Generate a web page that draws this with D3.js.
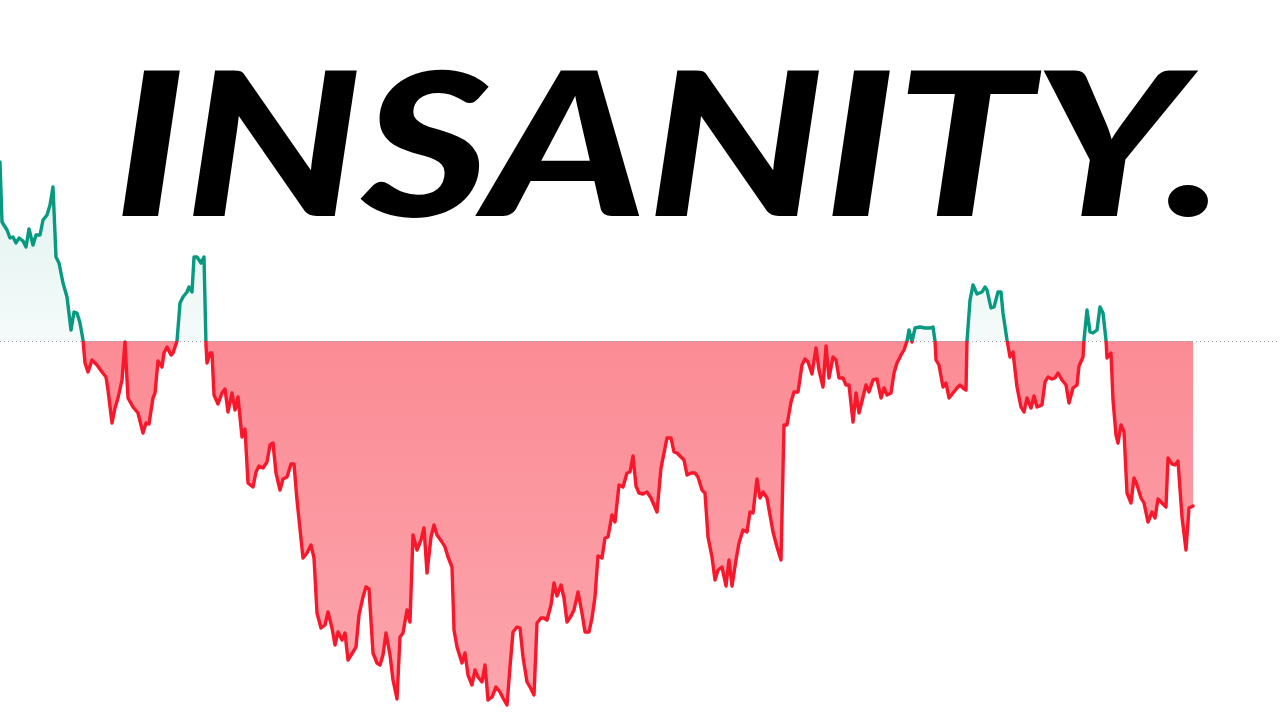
<!DOCTYPE html>
<html>
<head>
<meta charset="utf-8">
<script src="https://cdn.jsdelivr.net/npm/d3@7"></script>
<style>
  html, body { margin: 0; padding: 0; background: #ffffff; overflow: hidden; }
  svg { display: block; }
</style>
</head>
<body>
<svg id="chart" width="1280" height="720"></svg>
<script>
// ---- data ----
const titleText = "INSANITY.";
const baselinePrice = 189.5;

const days = [
  0,0.6,2.1,3,3.9,4.8,5.7,6.9,7.8,8.7,9.9,10.8,12,12.9,14.1,15,15.9,16.8,17.7,18.9,20.1,21.3,22.2,23.1,24,24.9,
  25.5,26.4,27.6,29.1,30.6,31.8,32.4,33.6,34.5,35.4,36.6,37.5,38.4,39.9,41.4,42.9,43.8,44.7,45.9,46.5,47.4,48.6,49.2,50.1,51.3,51.9,53.1,
  54,54.9,56.1,56.7,57.6,58.2,59.1,60.3,61.2,61.8,62.1,63,63.6,64.2,65.4,66.6,67.5,68.4,69.6,70.5,71.4,72.6,73.5,74.4,75.9,
  76.8,77.7,78.9,80.1,81,81.9,82.8,84,84.9,86.1,87.3,88.2,89.1,90.9,92.1,93.3,94.2,95.1,96.3,97.5,98.4,99.6,100.5,101.4,102.6,103.5,104.4,105.9,106.8,107.7,
  108.9,109.8,110.7,111.9,113.1,114,114.9,115.8,117,117.9,119.1,120,120.9,122.1,123,123.9,125.1,126.3,127.2,128.1,129.3,130.2,131.1,132.6,133.5,134.4,135.6,
  136.2,137.1,138.6,139.5,140.4,141.6,142.5,143.4,144.6,145.5,146.4,147.6,148.8,150,150.9,152.1,153,153.9,155.1,156,156.9,158.1,159,160.2,
  161.1,162.3,163.2,164.1,165.3,166.2,167.1,168.3,169.2,170.1,171.3,172.2,173.4,174.6,175.5,176.7,177.6,178.5,179.4,180.6,181.5,182.4,183.6,184.5,185.7,
  186.9,188.1,189,189.9,190.8,191.7,192.9,194.1,195.3,196.2,197.1,198.3,199.2,200.1,201.3,202.2,203.1,204.3,205.2,206.1,207.3,208.5,209.4,210.6,211.5,
  212.4,213.6,214.5,215.4,216.6,217.8,218.7,219.6,220.8,221.7,222.9,224.1,225,225.9,227.1,228,228.9,230.1,231,231.9,233.1,234.3,
  235.2,236.1,237.3,238.2,239.4,240.6,241.5,242.4,243.6,244.8,245.7,246.9,247.8,248.7,249.9,250.8,251.7,252.9,253.8,254.7,
  255.9,256.8,257.7,258.9,259.8,260.7,261.9,263.1,264.3,265.2,266.1,267.3,268.2,269.1,270.3,271.2,272.1,272.7,273.6,274.5,276,277.5,279,279.9,
  280.5,280.8,281.7,282.9,283.8,284.7,285.9,287.1,288,288.9,289.8,290.1,291,291.9,293.1,294.6,295.5,296.1,297.3,298.2,299.4,300.3,300.9,
  302.1,303,303.9,305.1,306.3,307.2,308.1,309.3,310.2,311.1,312.6,313.5,314.4,315.6,316.5,317.4,318.6,319.8,320.7,321.9,323.1,323.7,324.9,
  325.2,326.1,327,327.9,329.1,330,330.9,331.8,332.1,333.3,333.9,334.8,335.4,336.3,337.2,338.1,339.3,340.2,341.1,342.3,343.2,
  344.4,345.6,346.5,347.4,348.6,349.8,350.4,351.6,352.5,353.4,354.6,355.8,356.7,357.9
];

const prices = [
  279,249,245,241,241.5,238.5,241,239.5,236.5,245.5,237.5,242.5,242.5,250,252.5,257.5,266.5,231.5,228.5,218.5,211.5,195,204,203.5,198.5,190,
  178.5,174,180,177.5,174,171.5,165,148.5,156,161,170,189,161,156.5,153.5,143.5,148.5,148,161,163.5,179.5,176.5,183.5,186.5,182.5,183.5,189.5,
  208.5,211.5,214,216.5,214,231.5,231.5,228.5,231.5,187.5,178.5,183.5,183.5,162.5,158,163.5,165.5,154,163.5,155,161.5,141.5,145.5,118.5,116.5,
  124,127,126,129,137.5,138.5,123.5,115,120.5,121.5,128,128,110,81,83.5,87.5,81,53.5,46,47.5,54,46,37.5,44,40,43.5,30,34,36.5,52.5,
  61.5,66.5,65.5,33.5,28.5,27.5,32.5,43.5,32.5,20,10.5,41.5,43.5,55,49,92.5,85,90,96,73.5,91.5,97.5,92.5,89,86.5,81.5,76.5,
  45,36.5,28.5,33.5,22.5,17.5,25,21.5,19,27.5,10,11.5,16.5,14,11,7.5,26.5,44,46.5,46,31.5,19,16.5,12.5,
  48.5,51,51,50,57.5,68.5,62,67.5,61,49,52,55,64,53.5,44,44,51,61.5,82,81,91,91.5,102.5,99,117.5,
  116.5,123.5,124,132,117,113.5,113,114,111,107.5,104,126,133.5,141,141,134,133.5,131.5,130,122.5,123.5,123.5,121.5,115,113.5,
  91.5,81.5,70,75,76.5,67,80,67,80,88.5,95,94,104,103.5,120.5,111,114,111,102.5,94,86.5,80,
  147.5,147.5,159,164,164,177.5,180.5,179,173,186,175,166.5,187,171,181.5,180,171,171,167.5,167.5,
  149,163.5,153.5,161.5,167.5,164,170,170.5,161,166,162.5,163.5,173.5,178.5,182.5,185,189.5,195,189,196,196.5,196,196,196.5,
  189.5,180,177.5,166.5,168.5,161,163.5,166,167.5,166,165,189.5,210,217.5,213,214,216.5,215,206,206.5,214,214,203.5,
  190,181.5,184,166.5,156.5,154,161,156,162,156.5,157.5,169,171.5,170.5,171,173.5,170,167.5,158.5,166,167.5,177,181.5,
  190,205,194,193.5,195,206.5,203.5,190,181,183.5,160,142.5,138.5,147.5,144,113.5,108.5,121,117.5,111,108.5,
  99,104,101,110.5,108.5,106.5,131,128,127.5,129.5,101.5,85,106,107
];

// ---- layout / style ----
const W = 1280, H = 720;
const upColor = "#089981", downColor = "#f7182b";

const svg = d3.select("#chart");
const series = days.map((d, i) => ({ day: d, price: prices[i] }));

const x = d3.scaleLinear().domain([0, d3.max(days)]).range([0, 1193]);
const y = d3.scaleLinear().domain([0, 360]).range([H, 0]);
const yBase = y(baselinePrice);

const defs = svg.append("defs");
defs.append("clipPath").attr("id", "clipUp")
  .append("rect").attr("x", 0).attr("y", 0).attr("width", W).attr("height", yBase);
defs.append("clipPath").attr("id", "clipDown")
  .append("rect").attr("x", 0).attr("y", yBase).attr("width", W).attr("height", H - yBase);

const gUp = defs.append("linearGradient").attr("id", "gradUp")
  .attr("gradientUnits", "userSpaceOnUse").attr("x1", 0).attr("x2", 0)
  .attr("y1", y(d3.max(prices))).attr("y2", yBase);
gUp.append("stop").attr("offset", "0%").attr("stop-color", upColor).attr("stop-opacity", 0.13);
gUp.append("stop").attr("offset", "100%").attr("stop-color", upColor).attr("stop-opacity", 0.04);

const gDown = defs.append("linearGradient").attr("id", "gradDown")
  .attr("gradientUnits", "userSpaceOnUse").attr("x1", 0).attr("x2", 0)
  .attr("y1", yBase).attr("y2", y(d3.min(prices)));
gDown.append("stop").attr("offset", "0%").attr("stop-color", downColor).attr("stop-opacity", 0.5);
gDown.append("stop").attr("offset", "100%").attr("stop-color", downColor).attr("stop-opacity", 0.39);

const area = d3.area().x(d => x(d.day)).y0(yBase).y1(d => y(d.price));
const line = d3.line().x(d => x(d.day)).y(d => y(d.price));

svg.append("path").datum(series).attr("d", area)
  .attr("fill", "url(#gradUp)").attr("clip-path", "url(#clipUp)");
svg.append("path").datum(series).attr("d", area)
  .attr("fill", "url(#gradDown)").attr("clip-path", "url(#clipDown)");

// dotted baseline
svg.append("line")
  .attr("x1", 0).attr("x2", W).attr("y1", yBase + 0.5).attr("y2", yBase + 0.5)
  .attr("stroke", "#9aa1ab").attr("stroke-width", 1).attr("stroke-dasharray", "1,3");

svg.append("path").datum(series).attr("d", line)
  .attr("fill", "none").attr("stroke", upColor).attr("stroke-width", 3.4)
  .attr("stroke-linejoin", "round").attr("stroke-linecap", "round")
  .attr("clip-path", "url(#clipUp)");
svg.append("path").datum(series).attr("d", line)
  .attr("fill", "none").attr("stroke", downColor).attr("stroke-width", 3.4)
  .attr("stroke-linejoin", "round").attr("stroke-linecap", "round")
  .attr("clip-path", "url(#clipDown)");

// title
svg.append("text")
  .attr("x", 114).attr("y", 216)
  .attr("font-family", "Lato, Roboto, 'Open Sans', 'Liberation Sans', sans-serif")
  .attr("font-weight", 900).attr("font-style", "italic")
  .attr("font-size", 200)
  .attr("textLength", 1110).attr("lengthAdjust", "spacingAndGlyphs")
  .attr("fill", "#000")
  .text(titleText);
</script>
</body>
</html>
